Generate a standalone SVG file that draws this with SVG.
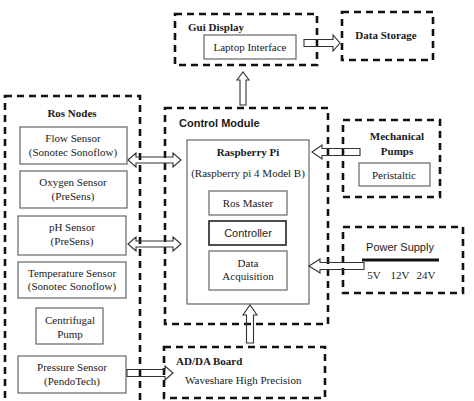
<svg xmlns="http://www.w3.org/2000/svg" width="474" height="401" viewBox="0 0 474 401">
<style>
.dash{fill:none;stroke:#111;stroke-width:2.6;stroke-dasharray:7 5}
.box{fill:#fff;stroke:#666;stroke-width:1.2}
.boxd{fill:#fff;stroke:#222;stroke-width:1.6}
.arr{fill:none;stroke:#333;stroke-width:1.1;stroke-linejoin:miter}
text{font-family:"Liberation Serif","Times New Roman",serif;fill:#1a1a1a;font-size:11px}
.t{font-weight:bold;font-size:11px}
.c{text-anchor:middle}
.s{font-family:"Liberation Sans",Arial,sans-serif}
</style>
<rect width="474" height="401" fill="#fff"/>

<g id="ros-nodes">
<rect class="dash" x="5" y="96" width="135" height="310"/>
<text class="t c" x="72" y="117">Ros Nodes</text>
</g>
<g id="flow-sensor">
<rect class="box" x="20" y="127" width="107" height="37"/>
<text class="c" x="73" y="142">Flow Sensor</text>
<text class="c" x="73" y="156" font-size="10.5">(Sonotec Sonoflow)</text>
</g>
<g id="oxygen-sensor">
<rect class="box" x="20" y="171" width="107" height="37"/>
<text class="c" x="73" y="186">Oxygen Sensor</text>
<text class="c" x="73" y="200" font-size="10.5">(PreSens)</text>
</g>
<g id="ph-sensor">
<rect class="box" x="18" y="216" width="108" height="39"/>
<text class="c" x="72" y="231">pH Sensor</text>
<text class="c" x="72" y="245" font-size="10.5">(PreSens)</text>
</g>
<g id="temperature-sensor">
<rect class="box" x="18" y="262" width="108" height="36"/>
<text class="c" x="72" y="277">Temperature Sensor</text>
<text class="c" x="72" y="290" font-size="10.5">(Sonotec Sonoflow)</text>
</g>
<g id="centrifugal-pump">
<rect class="box" x="36" y="308" width="67" height="36"/>
<text class="c" x="70" y="324">Centrifugal</text>
<text class="c" x="70" y="338">Pump</text>
</g>
<g id="pressure-sensor">
<rect class="box" x="18" y="356" width="108" height="37"/>
<text class="c" x="72" y="371">Pressure Sensor</text>
<text class="c" x="72" y="385" font-size="10.5">(PendoTech)</text>
</g>

<g id="gui-display">
<rect class="dash" x="175" y="14" width="142" height="51"/>
<text class="t" x="188" y="31">Gui Display</text>
</g>
<g id="laptop-interface">
<rect class="box" x="204" y="35" width="92" height="24"/>
<text class="c" x="250" y="51">Laptop Interface</text>
</g>
<g id="data-storage">
<rect class="dash" x="342" y="12" width="91" height="48"/>
<text class="t c" x="386" y="39">Data Storage</text>
</g>

<g id="control-module">
<rect class="dash" x="165" y="108" width="163" height="216"/>
<text class="s" x="179" y="127" font-size="10" font-weight="bold">Control Module</text>
</g>
<g id="raspberry-pi">
<rect class="box" x="187" y="140" width="122" height="164"/>
<text class="t c" x="248" y="156">Raspberry Pi</text>
<text class="c" x="248" y="177" font-size="10">(Raspberry pi 4 Model B)</text>
</g>
<g id="ros-master">
<rect class="box" x="209" y="191" width="78" height="24"/>
<text class="c" x="248" y="207">Ros Master</text>
</g>
<g id="controller">
<rect class="boxd" x="209" y="221" width="77" height="24"/>
<text class="c s" x="248" y="237" font-size="10.5">Controller</text>
</g>
<g id="data-acquisition">
<rect class="box" x="209" y="251" width="78" height="39"/>
<text class="c" x="248" y="267">Data</text>
<text class="c" x="248" y="280">Acquisition</text>
</g>

<g id="mechanical-pumps">
<rect class="dash" x="343" y="120" width="97" height="77"/>
<text class="t c" x="397" y="140">Mechanical</text>
<text class="t c" x="397" y="155">Pumps</text>
</g>
<g id="peristaltic">
<rect class="box" x="359" y="163" width="71" height="23"/>
<text class="c" x="394" y="179">Peristaltic</text>
</g>

<g id="power-supply">
<rect class="dash" x="343" y="227" width="120" height="66"/>
<text class="c s" x="400" y="251" font-size="10">Power Supply</text>
<line x1="362" y1="260" x2="439" y2="260" stroke="#111" stroke-width="3"/>
<text class="c" x="374" y="279" font-size="10">5V</text>
<text class="c" x="400" y="279" font-size="10">12V</text>
<text class="c" x="426" y="279" font-size="10">24V</text>
</g>

<g id="ad-da-board">
<rect class="dash" x="164" y="347" width="161" height="51"/>
<text class="t" x="176" y="365">AD/DA Board</text>
<text x="185" y="384">Waveshare High Precision</text>
</g>

<g id="connectors">
<path class="arr" d="M304,39.5 H333 V35 L340,43 L333,51 V46.5 H304 Z"/>
<path class="arr" d="M240,105 V80 H237 L243,72 L249,80 H246 V105 Z"/>
<path class="arr" d="M360,148.5 H322 V145 L312,152 L322,159 V155.5 H360 Z"/>
<path class="arr" d="M364,262.5 H320 V259 L309,266 L320,273 V269.5 H364 Z"/>
<path class="arr" d="M246.5,343 V315 H243 L250,305 L257,315 H253.5 V343 Z"/>
<path class="arr" d="M127,369.5 H165 V366 L173,373 L165,380 V376.5 H127 Z"/>
<path class="arr" d="M128,160 L136,153 V157 H173 V153 L181,160 L173,167 V163 H136 V167 Z"/>
<path class="arr" d="M128,244 L136,237 V241 H173 V237 L181,244 L173,251 V247 H136 V251 Z"/>
</g>
</svg>
